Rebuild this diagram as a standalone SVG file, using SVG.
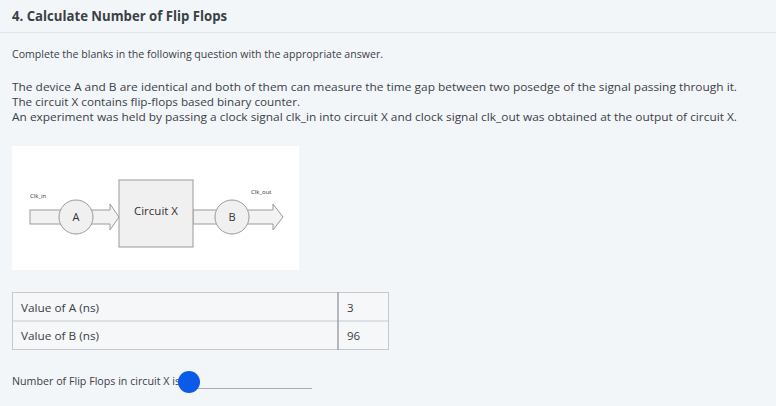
<svg xmlns="http://www.w3.org/2000/svg" width="776" height="406" viewBox="0 0 776 406">
<style>
.t{font-family:"Open Sans","Noto Sans","Liberation Sans",sans-serif;fill:#3a4046}
.d{font-family:"Open Sans","Liberation Sans",sans-serif;fill:#333}
.blk{fill:#f2f2f2;stroke:#9a9a9a;stroke-width:1}
.cir{fill:#f0f0f0;stroke:#9a9a9a;stroke-width:1}
</style>
<rect x="0" y="0" width="776" height="406" fill="#f3f6f9"/>
<text class="t" x="12" y="21" font-size="14" font-weight="bold" textLength="215" lengthAdjust="spacingAndGlyphs">4. Calculate Number of Flip Flops</text>
<line x1="0" y1="32.5" x2="776" y2="32.5" stroke="#e1e5e9" stroke-width="1"/>
<text class="t" x="12" y="58" font-size="10" textLength="371" lengthAdjust="spacingAndGlyphs">Complete the blanks in the following question with the appropriate answer.</text>
<text class="t" x="12" y="91" font-size="11.5" textLength="725" lengthAdjust="spacingAndGlyphs">The device A and B are identical and both of them can measure the time gap between two posedge of the signal passing through it.</text>
<text class="t" x="12" y="106" font-size="11.5" textLength="288" lengthAdjust="spacingAndGlyphs">The circuit X contains flip-flops based binary counter.</text>
<text class="t" x="12" y="121" font-size="11.5" textLength="725" lengthAdjust="spacingAndGlyphs">An experiment was held by passing a clock signal clk_in into circuit X and clock signal clk_out was obtained at the output of circuit X.</text>
<rect x="12" y="146" width="287" height="124" fill="#ffffff"/>
<g id="connectors">
<rect class="blk" x="30" y="210" width="32" height="14"/>
<polygon class="blk" points="90,210 110,210 110,204 119,217 110,230 110,224 90,224"/>
<rect class="blk" x="193" y="210" width="25" height="14"/>
<polygon class="blk" points="246,210 273,210 273,204 283,217 273,230 273,224 246,224"/>
</g>
<g id="clk_in"><text class="d" x="30" y="198" font-size="6">Clk_in</text></g>
<g id="clk_out"><text class="d" x="251" y="194" font-size="6">Clk_out</text></g>
<g id="nodeA"><circle class="cir" cx="76" cy="217" r="17"/><text class="d" x="76" y="221" font-size="11" text-anchor="middle">A</text></g>
<g id="circuitX"><rect x="119" y="180" width="74" height="67" fill="#f0f0f0" stroke="#9a9a9a"/><text class="d" x="156" y="215" font-size="11.5" text-anchor="middle">Circuit X</text></g>
<g id="nodeB"><circle class="cir" cx="232" cy="217" r="17"/><text class="d" x="232" y="221" font-size="11" text-anchor="middle">B</text></g>
<g id="table">
<rect x="12.5" y="292.5" width="376" height="57" fill="#f5f7f9" stroke="#c5cacf"/>
<line x1="12" y1="321" x2="388" y2="321" stroke="#c5cacf"/>
<line x1="338" y1="292" x2="338" y2="350" stroke="#9ea3a8" stroke-width="1.5"/>
<text class="t" x="21" y="312" font-size="11.5" textLength="78" lengthAdjust="spacingAndGlyphs">Value of A (ns)</text>
<text class="t" x="21" y="340" font-size="11.5" textLength="78" lengthAdjust="spacingAndGlyphs">Value of B (ns)</text>
<text class="t" x="347" y="312" font-size="11.5">3</text>
<text class="t" x="347" y="340" font-size="11.5">96</text>
</g>
<g id="answer">
<text class="t" x="12" y="385" font-size="10" textLength="168" lengthAdjust="spacingAndGlyphs">Number of Flip Flops in circuit X is</text>
<line x1="188" y1="388.5" x2="312" y2="388.5" stroke="#a9aeb3"/>
<circle cx="189" cy="382" r="11" fill="#0a5ce8"/>
</g>
</svg>
